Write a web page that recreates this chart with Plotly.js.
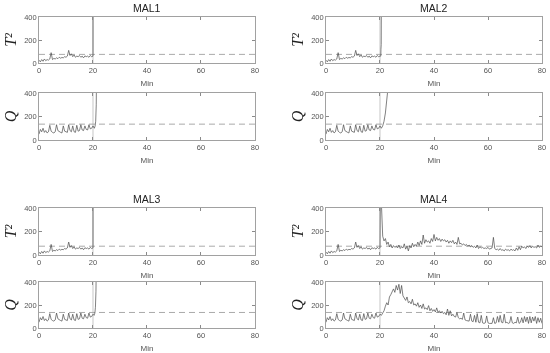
<!DOCTYPE html>
<html><head><meta charset="utf-8">
<script src="https://cdn.plot.ly/plotly-3.0.1.min.js"></script>
<style>html,body{margin:0;padding:0;background:#fff}#chart{width:550px;height:353px}.main-svg{will-change:transform}</style>
</head><body><div id="chart"></div>
<script>
const faultNames = ['MAL1', 'MAL2', 'MAL3', 'MAL4'];
const faultTime = 20;
const t2Limit = 75;
const qLimit = 135;
const xTicks = [0, 20, 40, 60, 80];
const yTicks = [0, 200, 400];

// Normal operation (0-20 min), shared by all four runs
const tNormal = [0,0.5,1,1.5,2,2.5,3,3.5,4,4.5,5,5.5,6,6.5,7,7.5,8,8.5,9,9.5,10,10.5,11,11.5,12,12.5,13,13.5,14,14.5,15,15.5,16,16.5,17,17.5,18,18.5,19,19.5,20];
const t2Normal = [25,10,30,15,35,20,30,25,35,90,30,40,35,45,38,50,42,48,45,55,50,60,110,65,80,55,70,50,60,55,65,50,60,45,62,55,60,50,65,55,60];
const qNormal = [50,90,70,100,65,80,60,70,125,75,65,60,70,130,80,70,65,60,120,75,70,65,130,80,70,120,70,65,125,75,80,130,85,80,120,90,85,130,95,100,120];

// After fault onset
const mal1T2T = [20.02, 20.5, 80];
const mal1T2 = [2000, 2000, 2000];
const mal1QT = [20.5, 20.8, 21.0, 21.2, 21.4, 22, 80];
const mal1Q = [100, 120, 160, 300, 500, 2000, 2000];

const mal2T2T = [20.3, 20.35, 20.45, 20.7, 80];
const mal2T2 = [60, 120, 160, 2000, 2000];
const mal2QT = [20.5, 21, 21.5, 22, 22.5, 23, 80];
const mal2Q = [100, 120, 160, 230, 330, 450, 2000];

const mal3T2T = [20.02, 20.5, 80];
const mal3T2 = [2000, 2000, 2000];
const mal3QT = [20.4, 20.7, 20.9, 21.1, 21.3, 22, 80];
const mal3Q = [110, 130, 180, 320, 500, 2000, 2000];

const tAfter = [20.5,21,21.5,22,22.5,23,23.5,24,24.5,25,25.5,26,26.5,27,27.5,28,28.5,29,29.5,30,30.5,31,31.5,32,32.5,33,33.5,34,34.5,35,35.5,36,36.5,37,37.5,38,38.5,39,39.5,40,40.5,41,41.5,42,42.5,43,43.5,44,44.5,45,45.5,46,46.5,47,47.5,48,48.5,49,49.5,50,50.5,51,51.5,52,52.5,53,53.5,54,54.5,55,55.5,56,56.5,57,57.5,58,58.5,59,59.5,60,60.5,61,61.5,62,62.5,63,63.5,64,64.5,65,65.5,66,66.5,67,67.5,68,68.5,69,69.5,70,70.5,71,71.5,72,72.5,73,73.5,74,74.5,75,75.5,76,76.5,77,77.5,78,78.5,79,79.5,80];
const mal4T2SpikeT = [20.1, 20.25];
const mal4T2Spike = [520, 480];
const mal4T2 = [450,160,120,140,90,110,70,90,60,80,65,75,60,85,55,70,60,95,50,75,35,80,60,100,70,90,75,110,80,120,90,170,100,130,110,120,100,140,115,175,120,150,125,140,115,135,120,130,110,125,100,120,105,125,95,110,90,150,95,100,85,95,80,90,75,85,70,80,65,75,60,85,55,70,60,65,55,60,55,65,50,55,60,150,55,45,50,40,55,40,45,35,50,40,45,35,50,40,45,35,60,40,70,45,75,60,70,55,75,65,80,60,75,65,70,60,85,65,75,70];
const mal4Q = [110,130,150,190,220,200,270,290,320,340,310,370,330,380,300,370,280,260,240,270,220,230,210,250,200,210,190,220,180,200,170,210,165,175,160,195,150,170,145,160,140,175,135,150,130,145,125,135,115,165,110,150,105,120,100,95,135,90,80,85,75,130,70,65,60,60,120,60,55,110,50,125,50,45,110,45,40,45,105,45,40,40,40,90,40,45,100,50,110,50,45,120,45,50,40,45,100,45,40,50,45,95,40,50,90,45,100,55,95,40,100,45,95,60,100,40,90,50,85,40];

const afterT2T = [mal1T2T, mal2T2T, mal3T2T, mal4T2SpikeT.concat(tAfter)];
const afterT2 = [mal1T2, mal2T2, mal3T2, mal4T2Spike.concat(mal4T2)];
const afterQT = [mal1QT, mal2QT, mal3QT, tAfter];
const afterQ = [mal1Q, mal2Q, mal3Q, mal4Q];

const xDom = [[0.0709, 0.4636], [0.5927, 0.9855]];
const yDomT2 = [[0.8215, 0.9518], [0.2776, 0.4108]];
const yDomQ = [[0.6034, 0.7365], [0.0708, 0.2011]];

const dataColor = '#4a4a4a';
const limitColor = '#a0a0a0';
const faultColor = '#b8b8b8';
const axisColor = '#8a8a8a';
const tickFont = {family: 'Liberation Sans, Arial, sans-serif', size: 7.5, color: '#555'};

const traces = [];
const layout = {
  width: 550, height: 353,
  margin: {l: 0, r: 0, t: 0, b: 0},
  paper_bgcolor: '#fff', plot_bgcolor: '#fff',
  showlegend: false,
  annotations: []
};

function axisX(dom, anchor) {
  return {domain: dom, anchor: anchor, range: [0, 80], tickvals: xTicks, ticks: 'inside', ticklen: 3,
    tickcolor: axisColor, showline: true, linecolor: axisColor, linewidth: 0.8, mirror: 'ticks',
    showgrid: false, zeroline: false, tickfont: tickFont,
    title: {text: 'Min', font: {family: 'Liberation Sans, Arial, sans-serif', size: 8, color: '#555'}, standoff: 6}};
}
function axisY(dom, anchor, label) {
  return {domain: dom, anchor: anchor, range: [0, 400], tickvals: yTicks, ticks: 'inside', ticklen: 3,
    tickcolor: axisColor, showline: true, linecolor: axisColor, linewidth: 0.8, mirror: 'ticks',
    showgrid: false, zeroline: false, tickfont: tickFont,
    title: {text: label, font: {family: 'Liberation Serif, DejaVu Serif, serif', size: 16, color: '#222', style: 'italic'}, standoff: 3}};
}

faultNames.forEach((name, i) => {
  const col = i % 2, row = Math.floor(i / 2);
  const panels = [
    {dom: yDomT2[row], label: 'T²', t: tNormal.concat(afterT2T[i]), v: t2Normal.concat(afterT2[i]), lim: t2Limit},
    {dom: yDomQ[row], label: 'Q', t: tNormal.concat(afterQT[i]), v: qNormal.concat(afterQ[i]), lim: qLimit}
  ];
  panels.forEach((p, j) => {
    const n = i * 2 + j + 1;
    const xs = n === 1 ? 'x' : 'x' + n, ys = n === 1 ? 'y' : 'y' + n;
    const xk = n === 1 ? 'xaxis' : 'xaxis' + n, yk = n === 1 ? 'yaxis' : 'yaxis' + n;
    layout[xk] = axisX(xDom[col], ys);
    layout[yk] = axisY(p.dom, xs, p.label);
    traces.push({x: [faultTime, faultTime], y: [0, 400], xaxis: xs, yaxis: ys, mode: 'lines',
      line: {color: faultColor, width: 0.8}, hoverinfo: 'skip'});
    traces.push({x: [0, 80], y: [p.lim, p.lim], xaxis: xs, yaxis: ys, mode: 'lines',
      line: {color: limitColor, width: 0.9, dash: '6px,4px'}, hoverinfo: 'skip'});
    traces.push({x: p.t, y: p.v, xaxis: xs, yaxis: ys, mode: 'lines', name: name,
      line: {color: dataColor, width: 0.7}, cliponaxis: true});
  });
  layout.annotations.push({text: name, xref: 'paper', yref: 'paper',
    x: (xDom[col][0] + xDom[col][1]) / 2, y: yDomT2[row][1] + 0.004, xanchor: 'center', yanchor: 'bottom',
    showarrow: false, font: {family: 'Liberation Sans, Arial, sans-serif', size: 10.5, color: '#222'}});
});

Plotly.newPlot('chart', traces, layout, {staticPlot: true, displayModeBar: false});
</script>
</body></html>
